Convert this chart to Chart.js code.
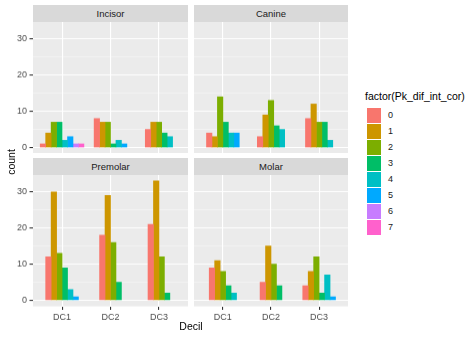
<!DOCTYPE html>
<html>
<head>
<meta charset="utf-8">
<script src="https://cdn.jsdelivr.net/npm/chart.js@4"></script>
<style>
  body { margin: 0; background: #fff; font-family: "Liberation Sans", Arial, sans-serif; }
  #wrap { position: relative; width: 474px; height: 338px; overflow: hidden; }
  .box { position: absolute; }
  .strip { position: absolute; height: 17px; background: #d9d9d9; color: #1a1a1a;
           font-size: 9.5px; line-height: 17px; text-align: center; }
  .title { position: absolute; font-size: 10.5px; color: #000; white-space: nowrap; }
  .key { position: absolute; width: 14px; height: 14.5px; }
  .klab { position: absolute; font-size: 9px; color: #1a1a1a; }
</style>
</head>
<body>
<div id="wrap"></div>
<script>
const decils = ['DC1', 'DC2', 'DC3'];
const levels = ['0', '1', '2', '3', '4', '5', '6', '7'];
const yTicks = [0, 10, 20, 30];

// une ligne par niveau, colonnes DC1, DC2, DC3 (null = pas de barre)
const incisor = [
  [1, 8, 5], [4, 7, 7], [7, 7, 7], [7, 1, 4],
  [2, 2, 3], [3, 1, null], [1, null, null], [1, null, null]
];
const canine = [
  [4, 3, 8], [3, 9, 12], [14, 13, 7], [7, 6, 7],
  [4, 5, 2], [4, null, null], [null, null, null], [null, null, null]
];
const premolar = [
  [12, 18, 21], [30, 29, 33], [13, 16, 12], [9, 5, 2],
  [3, null, null], [1, null, null], [null, null, null], [null, null, null]
];
const molar = [
  [9, 5, 4], [11, 15, 8], [8, 10, 12], [4, 4, 2],
  [2, null, 7], [null, null, 1], [null, null, null], [null, null, null]
];

const colors = ['#F8766D', '#CD9600', '#7CAE00', '#00BE67', '#00BFC4', '#00A9FF', '#C77CFF', '#FF61CC'];

const wrap = document.getElementById('wrap');

function el(cls, css, text) {
  const d = document.createElement('div');
  d.className = cls;
  Object.assign(d.style, css);
  if (text !== undefined) d.textContent = text;
  wrap.appendChild(d);
  return d;
}

const panelBg = {
  id: 'panelBg',
  beforeDraw(chart) {
    const a = chart.chartArea;
    chart.ctx.save();
    chart.ctx.fillStyle = '#ebebeb';
    chart.ctx.fillRect(a.left, a.top, a.right - a.left, a.bottom - a.top);
    chart.ctx.restore();
  }
};

function noPad(s) {
  s.paddingTop = 0; s.paddingBottom = 0; s.paddingLeft = 0; s.paddingRight = 0;
}

function facet(name, counts, left, top, width, height, showY, showX) {
  const leftAxis = showY ? 33 : 0;
  const bottomAxis = showX ? 33 : 0;
  el('strip', { left: (left + leftAxis) + 'px', top: (top - 17) + 'px', width: (width - leftAxis) + 'px' }, name);
  const box = el('box', { left: left + 'px', top: top + 'px', width: width + 'px', height: (height + bottomAxis) + 'px' });
  const cv = document.createElement('canvas');
  box.appendChild(cv);

  new Chart(cv, {
    type: 'bar',
    data: {
      datasets: levels.map((lv, i) => ({
        label: lv,
        data: decils.map((d, j) => ({ x: j + 1, y: counts[i][j] })),
        backgroundColor: colors[i],
        borderWidth: 0,
        barThickness: 5.46,
        skipNull: true
      }))
    },
    options: {
      responsive: true,
      maintainAspectRatio: false,
      devicePixelRatio: 1,
      animation: false,
      layout: { padding: 0 },
      plugins: { legend: { display: false }, tooltip: { enabled: false } },
      scales: {
        x: {
          type: 'linear',
          min: 0.4,
          max: 3.6,
          offset: false,
          border: { display: false },
          grid: {
            offset: false,
            color: '#ffffff',
            lineWidth: 1.1,
            drawTicks: showX,
            tickLength: 3.5,
            tickColor: '#333333'
          },
          ticks: {
            display: showX,
            stepSize: 1,
            includeBounds: false,
            autoSkip: false,
            maxRotation: 0,
            padding: 2,
            color: '#4d4d4d',
            font: { family: 'Liberation Sans', size: 9 },
            callback: v => decils[v - 1]
          },
          afterFit: s => { s.height = bottomAxis; noPad(s); }
        },
        y: {
          min: -1.65,
          max: 34.65,
          border: { display: false },
          grid: {
            color: c => yTicks.includes(c.tick.value) ? '#ffffff' : 'rgba(255,255,255,0.75)',
            lineWidth: c => yTicks.includes(c.tick.value) ? 1.1 : 0.55,
            drawTicks: showY,
            tickLength: 3.5,
            tickColor: c => yTicks.includes(c.tick.value) ? '#333333' : 'rgba(0,0,0,0)'
          },
          ticks: {
            display: showY,
            stepSize: 5,
            includeBounds: false,
            padding: 2.5,
            color: '#4d4d4d',
            font: { family: 'Liberation Sans', size: 9 },
            callback: v => yTicks.includes(v) ? v : ''
          },
          afterFit: s => { s.width = leftAxis; noPad(s); }
        }
      }
    },
    plugins: [panelBg]
  });
}

facet('Incisor', incisor, 0, 22, 188, 130.5, true, false);
facet('Canine', canine, 194, 22, 154, 130.5, false, false);
facet('Premolar', premolar, 0, 175, 188, 130.5, true, true);
facet('Molar', molar, 194, 175, 154, 130.5, false, true);

// titres d'axes
el('title', { left: '170px', top: '320px', width: '42px', textAlign: 'center' }, 'Decil');
el('title', { left: '-10px', top: '156px', width: '42px', textAlign: 'center', transform: 'rotate(-90deg)' }, 'count');

// légende
el('title', { left: '365px', top: '90px' }, 'factor(Pk_dif_int_cor)');
levels.forEach((lv, i) => {
  el('key', { left: '366.5px', top: (108 + i * 16) + 'px', background: colors[i] });
  el('klab', { left: '388px', top: (109.5 + i * 16) + 'px' }, lv);
});
</script>
</body>
</html>
